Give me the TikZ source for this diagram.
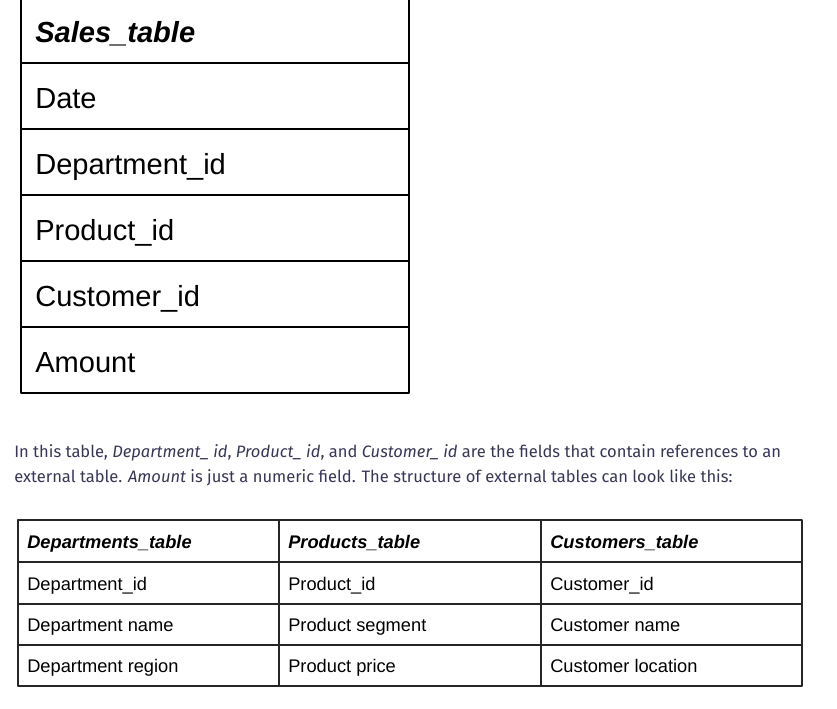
\documentclass[tikz,border=0pt]{standalone}
\usepackage{fontspec}
\setmainfont{Liberation Sans}
\newfontfamily\parafont{Fira Sans}
\usetikzlibrary{positioning}
\definecolor{paragray}{RGB}{55,55,85}

\begin{document}
\begin{tikzpicture}[x=0.75pt,y=-0.75pt,line cap=round,line join=round,
    bigcell/.style={anchor=base west,inner sep=0pt,font=\fontsize{21.8}{24}\selectfont},
    smallcell/.style={anchor=base west,inner sep=0pt,font=\fontsize{13.7}{16}\selectfont},
    paraline/.style={anchor=base west,inner sep=0pt,text=paragray,font=\parafont\fontsize{12.4}{15}\selectfont}]
    \useasboundingbox (0,0) rectangle (837,708);
    \clip (0,0) rectangle (837,708);
    \draw [line width=1.5pt,black] (21,-3) rectangle (409,393);
    \foreach \y in {63,129,195,261,327}
        \draw [line width=1.5pt,black] (21,\y) -- (409,\y);
    \node [bigcell] (sales) at (35,42) {\bfseries\itshape Sales\_table};
    \node [bigcell] (date) at (35,108) {Date};
    \node [bigcell] (deptid) at (35,174) {Department\_id};
    \node [bigcell] (prodid) at (35,240) {Product\_id};
    \node [bigcell] (custid) at (35,306) {Customer\_id};
    \node [bigcell] (amount) at (35,372) {Amount};
    \node [paraline] (lineone) at (14,457) {In this table, \textit{Department\_ id}, \textit{Product\_ id}, and \textit{Customer\_ id} are the fields that contain references to an};
    \node [paraline] (linetwo) at (14,482) {external table. \textit{Amount} is just a numeric field. The structure of external tables can look like this:};
    \draw [line width=0.9pt,black!85] (18,520) rectangle (802,686);
    \foreach \y in {562,604,645}
        \draw [line width=0.9pt,black!85] (18,\y) -- (802,\y);
    \foreach \x in {279,541}
        \draw [line width=0.9pt,black!85] (\x,520) -- (\x,686);
    \node [smallcell] (depts) at (27,548) {\bfseries\itshape Departments\_table};
    \node [smallcell] (prods) at (288,548) {\bfseries\itshape Products\_table};
    \node [smallcell] (custs) at (550,548) {\bfseries\itshape Customers\_table};
    \node [smallcell] (deptone) at (27,590) {Department\_id};
    \node [smallcell] (prodone) at (288,590) {Product\_id};
    \node [smallcell] (custone) at (550,590) {Customer\_id};
    \node [smallcell] (depttwo) at (27,631) {Department name};
    \node [smallcell] (prodtwo) at (288,631) {Product segment};
    \node [smallcell] (custtwo) at (550,631) {Customer name};
    \node [smallcell] (deptthree) at (27,672) {Department region};
    \node [smallcell] (prodthree) at (288,672) {Product price};
    \node [smallcell] (custthree) at (550,672) {Customer location};
\end{tikzpicture}
\end{document}
